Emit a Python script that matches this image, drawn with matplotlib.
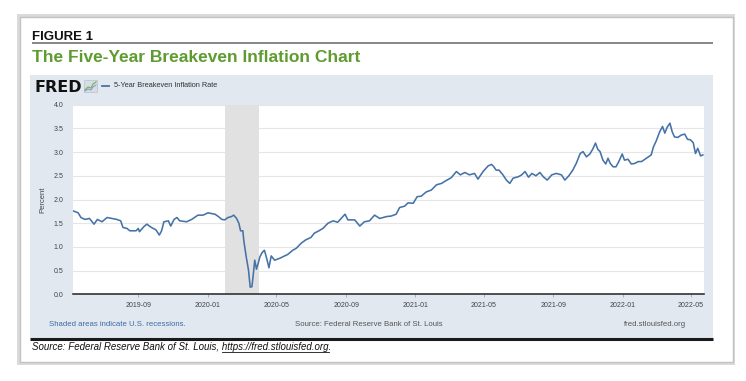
import matplotlib
matplotlib.use('Agg')
import matplotlib.pyplot as plt
import matplotlib.dates as mdates
import pandas as pd
from matplotlib.patches import Rectangle

plt.rcParams['font.family'] = ['Liberation Sans', 'DejaVu Sans']

# ---------------- data ----------------
dates = [
    '2019-05-09', '2019-05-18', '2019-05-23', '2019-05-30', '2019-06-07', '2019-06-15',
    '2019-06-21', '2019-06-29', '2019-07-08', '2019-07-25', '2019-08-01', '2019-08-05',
    '2019-08-12', '2019-08-17', '2019-08-28', '2019-09-01', '2019-09-03', '2019-09-11',
    '2019-09-16', '2019-09-24', '2019-10-02', '2019-10-08', '2019-10-12', '2019-10-16',
    '2019-10-24', '2019-10-28', '2019-11-03', '2019-11-08', '2019-11-13', '2019-11-25',
    '2019-12-04', '2019-12-15', '2019-12-24', '2020-01-02', '2020-01-05', '2020-01-14',
    '2020-01-20', '2020-01-26', '2020-01-31', '2020-02-06', '2020-02-12', '2020-02-16',
    '2020-02-21', '2020-02-25', '2020-02-28', '2020-03-03', '2020-03-05', '2020-03-09',
    '2020-03-13', '2020-03-16', '2020-03-19', '2020-03-21', '2020-03-24', '2020-03-27',
    '2020-03-30', '2020-04-02', '2020-04-06', '2020-04-10', '2020-04-14', '2020-04-18',
    '2020-04-22', '2020-04-28', '2020-05-07', '2020-05-16', '2020-05-21', '2020-05-30',
    '2020-06-05', '2020-06-14', '2020-06-22', '2020-07-01', '2020-07-07', '2020-07-15',
    '2020-07-22', '2020-07-31', '2020-08-09', '2020-08-17', '2020-08-30', '2020-09-04',
    '2020-09-16', '2020-09-25', '2020-10-03', '2020-10-12', '2020-10-21', '2020-10-30',
    '2020-11-11', '2020-11-19', '2020-11-28', '2020-12-04', '2020-12-13', '2020-12-19',
    '2020-12-28', '2021-01-04', '2021-01-11', '2021-01-20', '2021-01-29', '2021-02-07',
    '2021-02-16', '2021-02-24', '2021-03-05', '2021-03-14', '2021-03-21', '2021-03-29',
    '2021-04-06', '2021-04-15', '2021-04-21', '2021-04-30', '2021-05-09', '2021-05-15',
    '2021-05-19', '2021-05-23', '2021-05-28', '2021-06-04', '2021-06-10', '2021-06-16',
    '2021-06-22', '2021-07-01', '2021-07-07', '2021-07-13', '2021-07-19', '2021-07-25',
    '2021-08-01', '2021-08-08', '2021-08-14', '2021-08-21', '2021-08-29', '2021-09-06',
    '2021-09-15', '2021-09-21', '2021-09-28', '2021-10-05', '2021-10-11', '2021-10-18',
    '2021-10-23', '2021-10-29', '2021-11-04', '2021-11-09', '2021-11-14', '2021-11-18',
    '2021-11-22', '2021-11-27', '2021-12-02', '2021-12-06', '2021-12-10', '2021-12-15',
    '2021-12-20', '2021-12-25', '2021-12-31', '2022-01-04', '2022-01-10', '2022-01-16',
    '2022-01-22', '2022-01-28', '2022-02-03', '2022-02-09', '2022-02-14', '2022-02-20',
    '2022-02-24', '2022-03-01', '2022-03-07', '2022-03-12', '2022-03-16', '2022-03-20',
    '2022-03-25', '2022-03-29', '2022-04-02', '2022-04-08', '2022-04-14', '2022-04-20',
    '2022-04-25', '2022-04-30', '2022-05-05', '2022-05-09', '2022-05-13', '2022-05-18',
    '2022-05-22',
]
values = [
    1.76, 1.72, 1.62, 1.58, 1.60, 1.48,
    1.58, 1.53, 1.62, 1.58, 1.55, 1.41,
    1.39, 1.34, 1.34, 1.39, 1.32, 1.43,
    1.48, 1.41, 1.36, 1.25, 1.34, 1.53,
    1.55, 1.44, 1.58, 1.62, 1.55, 1.53,
    1.58, 1.67, 1.67, 1.72, 1.71, 1.69,
    1.64, 1.58, 1.57, 1.62, 1.64, 1.67,
    1.60, 1.50, 1.34, 1.34, 1.11, 0.79,
    0.51, 0.15, 0.16, 0.37, 0.72, 0.53,
    0.65, 0.79, 0.88, 0.93, 0.76, 0.56,
    0.81, 0.72, 0.76, 0.81, 0.84, 0.93,
    0.97, 1.08, 1.15, 1.20, 1.29, 1.34,
    1.39, 1.50, 1.55, 1.52, 1.69, 1.57,
    1.57, 1.44, 1.53, 1.55, 1.67, 1.60,
    1.64, 1.65, 1.69, 1.83, 1.86, 1.93,
    1.92, 2.06, 2.07, 2.16, 2.20, 2.31,
    2.34, 2.40, 2.46, 2.59, 2.52, 2.57,
    2.52, 2.55, 2.43, 2.59, 2.71, 2.74,
    2.69, 2.62, 2.62, 2.52, 2.41, 2.34,
    2.45, 2.48, 2.52, 2.59, 2.47, 2.55,
    2.50, 2.57, 2.48, 2.41, 2.52, 2.55,
    2.52, 2.41, 2.50, 2.62, 2.76, 2.97,
    3.01, 2.90, 2.96, 3.06, 3.19, 3.06,
    3.01, 2.83, 2.75, 2.87, 2.76, 2.69,
    2.69, 2.80, 2.96, 2.83, 2.85, 2.75,
    2.76, 2.80, 2.80, 2.85, 2.89, 2.94,
    3.11, 3.24, 3.43, 3.54, 3.40, 3.52,
    3.61, 3.43, 3.32, 3.31, 3.36, 3.38,
    3.27, 3.26, 3.20, 2.97, 3.08, 2.92,
    2.94,
]
recession = ['2020-02-01', '2020-04-01']
x_range = ['2019-05-09', '2022-05-24']
x_ticks = ['2019-09-01', '2020-01-01', '2020-05-01', '2020-09-01', '2021-01-01',
           '2021-05-01', '2021-09-01', '2022-01-01', '2022-05-01']
y_ticks = [0.0, 0.5, 1.0, 1.5, 2.0, 2.5, 3.0, 3.5, 4.0]

series_name = '5-Year Breakeven Inflation Rate'
figure_label = 'FIGURE 1'
title = 'The Five-Year Breakeven Inflation Chart'
src_prefix = 'Source: Federal Reserve Bank of St. Louis, '
src_url = 'https://fred.stlouisfed.org'

# ---------------- figure ----------------
W, H = 746, 381
fig = plt.figure(figsize=(W / 100, H / 100), dpi=100)
fig.patch.set_facecolor('white')

bg = fig.add_axes([0, 0, 1, 1])
bg.set_xlim(0, W)
bg.set_ylim(H, 0)
bg.axis('off')

# card with soft grey border
bg.add_patch(Rectangle((17, 14), 718, 351, fc='#dadada', ec='none'))
bg.add_patch(Rectangle((20, 17), 713, 345, fc='white', ec='#c2c2c2', lw=1.0))
# FRED panel
bg.add_patch(Rectangle((30, 75), 683, 263, fc='#e1e8f0', ec='none'))

bg.text(32, 40.5, figure_label, fontsize=9.5, fontweight='bold', color='#111111',
        va='baseline', ha='left')
bg.plot([32, 713], [43, 43], color='#666666', lw=1.1, solid_capstyle='butt')
bg.text(32, 62.5, title, fontsize=12.5, fontweight='bold', color='#5e9c2f',
        va='baseline', ha='left')

# FRED logo + small icon
bg.text(34, 92.5, 'FRED', fontsize=11.5, fontweight='heavy', color='#111111',
        va='baseline', ha='left', family=['DejaVu Sans'])
bg.add_patch(Rectangle((84, 80), 13, 12, fc='#d6dde4', ec='#b8c2cc', lw=0.5))
bg.plot([85, 88, 91, 93, 96], [90, 87, 88, 84, 82], color='#7fb069', lw=0.9)
bg.plot([85, 88, 91, 93, 96], [91, 89, 90, 87, 85], color='#7a9cc6', lw=0.7)

# legend
bg.plot([102, 109], [85.5, 85.5], color='#4572a7', lw=1.3)
bg.text(114, 85.5, series_name, fontsize=5.3, color='#333333', va='center', ha='left')

# bottom of panel
bg.text(49, 325, 'Shaded areas indicate U.S. recessions.', fontsize=5.6,
        color='#3b6aa4', va='center', ha='left')
bg.text(369, 325, 'Source: Federal Reserve Bank of St. Louis', fontsize=5.6,
        color='#555555', va='center', ha='center')
bg.text(686, 325, 'fred.stlouisfed.org', fontsize=5.6,
        color='#555555', va='center', ha='right')

bg.plot([30, 713], [339.2, 339.2], color='#1a1a1a', lw=2.2, solid_capstyle='butt')

# source line with underlined URL
src_font = dict(fontsize=7.0, style='italic', color='#111111', va='baseline', ha='left',
                family=['Liberation Sans Narrow', 'Liberation Sans', 'DejaVu Sans'])
bg.text(32, 350, src_prefix + src_url + '.', **src_font)
fig.canvas.draw()
r = fig.canvas.get_renderer()
m1 = bg.text(32, 350, src_prefix + 'x', alpha=0, **src_font)
m0 = bg.text(32, 350, 'x', alpha=0, **src_font)
m2 = bg.text(32, 350, src_prefix + src_url, alpha=0, **src_font)
wx = m0.get_window_extent(r).width
u0 = m1.get_window_extent(r).x1 - wx
u1 = m2.get_window_extent(r).x1
bg.plot([u0, u1], [351.6, 351.6], color='#111111', lw=0.6)

# ---------------- chart ----------------
ax = fig.add_axes([73 / W, 1 - 294.3 / H, (704 - 73) / W, (294.3 - 104.7) / H])
ax.set_facecolor('white')

d = pd.to_datetime(dates)
ax.axvspan(pd.Timestamp(recession[0]), pd.Timestamp(recession[1]),
           color='#e1e1e1', lw=0, zorder=1)
ax.plot(d, values, color='#4572a7', lw=1.15, zorder=3)

ax.set_xlim(pd.Timestamp(x_range[0]), pd.Timestamp(x_range[1]))
ax.set_ylim(0, 4.0)
ax.set_yticks(y_ticks)
ax.set_yticklabels([f'{v:.1f}' for v in y_ticks])
ax.set_xticks(pd.to_datetime(x_ticks))
ax.xaxis.set_major_formatter(mdates.DateFormatter('%Y-%m'))
ax.grid(axis='y', color='#e6e6e6', lw=0.8, zorder=0)
ax.set_axisbelow(True)

for s in ['top', 'right', 'left']:
    ax.spines[s].set_visible(False)
ax.spines['bottom'].set_color('#222222')
ax.spines['bottom'].set_linewidth(1.1)
ax.spines['bottom'].set_zorder(4)

ax.tick_params(axis='y', length=0, pad=7, labelsize=5.0, labelcolor='#444444')
ax.tick_params(axis='x', length=2.5, width=0.5, color='#999999', pad=3,
               labelsize=5.0, labelcolor='#444444')
ax.set_ylabel('Percent', fontsize=5.5, color='#444444', labelpad=5)

fig.savefig('out.png', dpi=100, facecolor='white')
